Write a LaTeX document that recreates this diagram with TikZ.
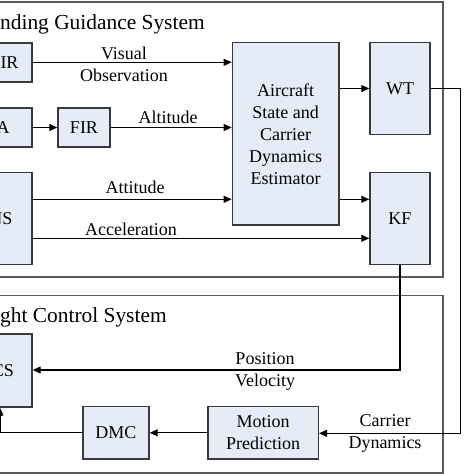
\documentclass[tikz,border=0pt]{standalone}
\usepackage{fontspec}
\setmainfont{Liberation Serif}
\usetikzlibrary{arrows.meta}
\definecolor{boxfill}{HTML}{E6ECF7}
\definecolor{boxline}{HTML}{3A3A3A}
\definecolor{frameline}{HTML}{5A5A5A}
\tikzset{
  blk/.style={draw=boxline, line width=1.4pt, fill=boxfill, inner sep=0pt, align=center,
    font=\fontsize{18}{22}\selectfont},
  lbl/.style={inner sep=0pt, align=center, font=\fontsize{18}{22}\selectfont},
  ttl/.style={inner sep=0pt, anchor=base west, font=\fontsize{21.4}{25}\selectfont},
  frm/.style={draw=frameline, line width=1.8pt},
  con/.style={line width=1.2pt, -{Triangle[length=8pt,width=7pt]}},
  wire/.style={line width=1.2pt}
}
\begin{document}
\begin{tikzpicture}[x=1pt,y=-1pt]
\useasboundingbox (0,0) rectangle (474,474);
\fill[white] (0,0) rectangle (474,474);
% frames
\draw[frm] (-80,2) rectangle (442.7,276.7);
\draw[frm] (-80,295.5) rectangle (442.7,472.7);
\node[ttl] (t1) at (-22.6,29) {Landing Guidance System};
\node[ttl] (t2) at (-23.8,322) {Flight Control System};
% blocks
\node[blk, minimum width=55pt, minimum height=39pt] (fir1) at (4.5,62.5) {FIR};
\node[blk, minimum width=70pt, minimum height=39pt] (ra) at (-3,127.5) {RA};
\node[blk, minimum width=52pt, minimum height=39pt] (fir2) at (84,127.5) {FIR};
\node[blk, minimum width=68pt, minimum height=91.6pt] (ins) at (-2,218.5) {INS};
\node[blk, minimum width=106.7pt, minimum height=182.3pt] (est) at (285.7,133.8)
  {Aircraft\\State and\\Carrier\\Dynamics\\Estimator};
\node[blk, minimum width=60pt, minimum height=91.6pt] (wt) at (400,88.5) {WT};
\node[blk, minimum width=60pt, minimum height=91.6pt] (kf) at (400,218.5) {KF};
\node[blk, minimum width=68pt, minimum height=73pt] (fcs) at (-2,370.5) {FCS};
\node[blk, minimum width=66pt, minimum height=52.3pt] (dmc) at (116,432.8) {DMC};
\node[blk, minimum width=110.3pt, minimum height=52.3pt] (mp) at (263.2,432.8) {Motion\\Prediction};
% connectors
\draw[con] (fir1.east |- 0,62.3) -- (est.west |- 0,62.3);
\draw[con] (ra) -- (fir2);
\draw[con] (fir2) -- (est.west |- fir2);
\draw[con] (ins.east |- 0,199.3) -- (est.west |- 0,199.3);
\draw[con] (ins.east |- 0,238.3) -- (kf.west |- 0,238.3);
\draw[con] (est.east |- wt) -- (wt.west);
\draw[con] (est.east |- 0,199.3) -- (kf.west |- 0,199.3);
\coordinate (kfc) at (400,370);
\draw[con] (kf.south) -- (kfc) -- (fcs.east |- kfc);
\coordinate (wtr) at (460.7,88.5);
\coordinate (wtb) at (460.7,433.3);
\draw[con] (wt.east) -- (wtr) -- (wtb) -- (mp.east |- wtb);
\draw[con] (mp.west) -- (dmc.east);
\coordinate (fcsl) at (0,432.8);
\draw[con] (dmc.west) -- (fcsl) -- (fcsl |- fcs.south);
% labels
\node[lbl] (l1) at (124,64) {Visual\\Observation};
\node[lbl] (l2) at (168,117.5) {Altitude};
\node[lbl] (l3) at (135,187) {Attitude};
\node[lbl] (l4) at (131,229) {Acceleration};
\node[lbl] (l5) at (265,371.5) {Position\\Velocity};
\node[lbl] (l6) at (385,433.5) {Carrier\\Dynamics};
\end{tikzpicture}
\end{document}
